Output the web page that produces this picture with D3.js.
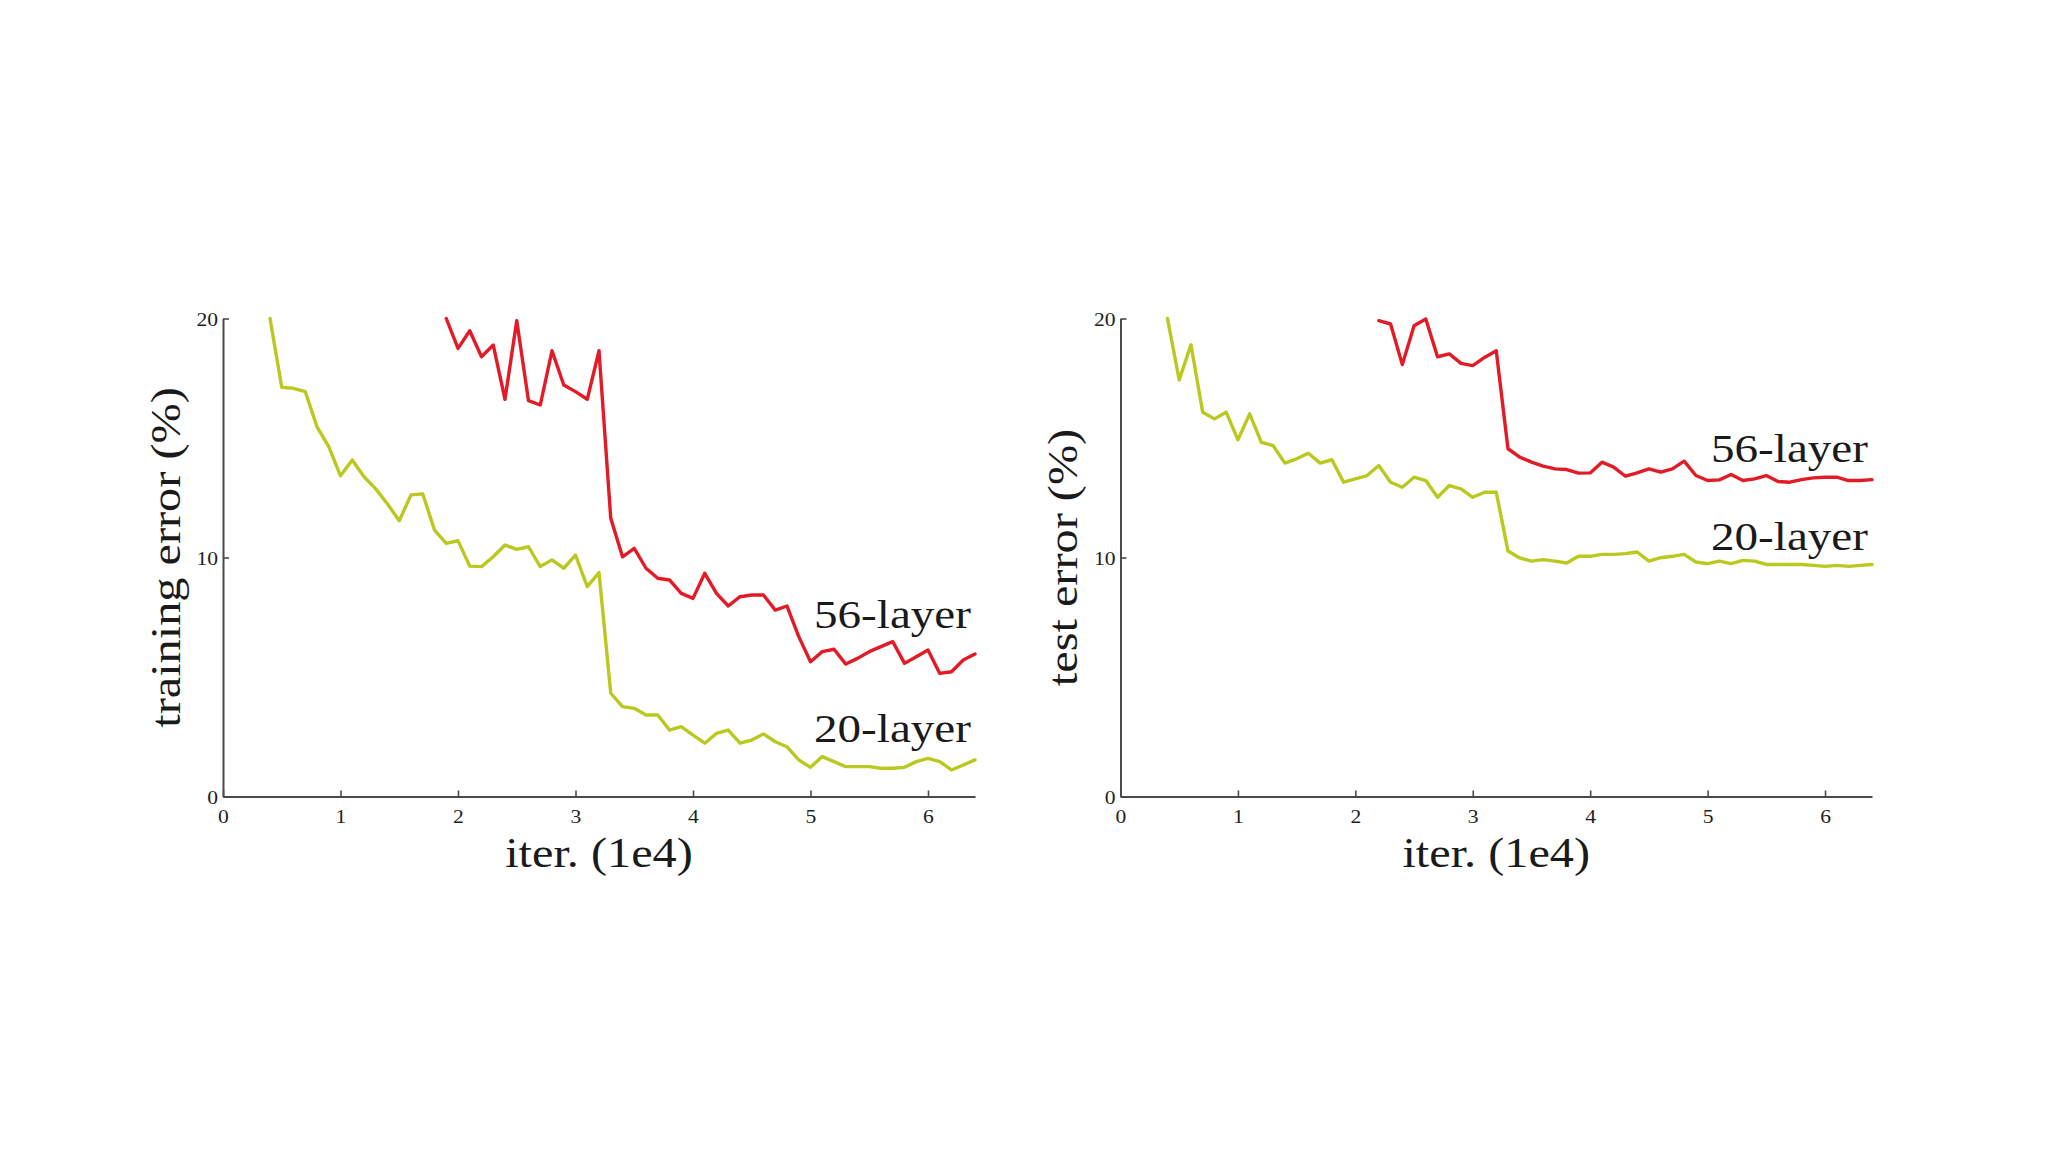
<!DOCTYPE html>
<html>
<head>
<meta charset="utf-8">
<script src="https://cdn.jsdelivr.net/npm/d3@7"></script>
<style>
  body { margin: 0; background: #fff; }
  svg { display: block; }
</style>
</head>
<body>
<script>
'use strict';

// one logged point every 1e3 iterations = 0.1 on the (1e4) axis
const iterStep = 0.1;

const xTicks = [0, 1, 2, 3, 4, 5, 6];
const yTicks = [0, 10, 20];
const seriesNames = ["56-layer", "20-layer"];

// training error (%) - left plot
const train20Start = 0.4;
const train20 = [20.0, 17.12, 17.08, 16.94, 15.47, 14.64, 13.42, 14.08, 13.38, 12.87,
  12.24, 11.54, 12.62, 12.66, 11.15, 10.59, 10.70, 9.64, 9.62, 10.03,
  10.52, 10.34, 10.45, 9.62, 9.90, 9.55, 10.10, 8.78, 9.37, 4.32,
  3.76, 3.69, 3.41, 3.41, 2.78, 2.92, 2.57, 2.23, 2.64, 2.78,
  2.23, 2.36, 2.62, 2.29, 2.08, 1.53, 1.22, 1.67, 1.46, 1.25,
  1.25, 1.25, 1.18, 1.18, 1.22, 1.46, 1.60, 1.46, 1.11, 1.32, 1.53];
const train56Start = 1.9;
const train56 = [20.0, 18.75, 19.49, 18.40, 18.89, 16.62, 19.91, 16.56, 16.38, 18.65,
  17.22, 16.94, 16.62, 18.65, 11.64, 10.03, 10.38, 9.55, 9.13, 9.06,
  8.50, 8.29, 9.34, 8.50, 7.97, 8.36, 8.43, 8.43, 7.80, 7.97,
  6.69, 5.64, 6.06, 6.16, 5.54, 5.78, 6.06, 6.27, 6.48, 5.57,
  5.85, 6.13, 5.15, 5.22, 5.71, 5.96];

// test error (%) - right plot
const test20Start = 0.4;
const test20 = [20.0, 17.43, 18.90, 16.08, 15.80, 16.08, 14.92, 16.01, 14.82, 14.68,
  13.95, 14.13, 14.36, 13.95, 14.09, 13.15, 13.29, 13.43, 13.85, 13.15,
  12.94, 13.36, 13.22, 12.52, 13.01, 12.87, 12.52, 12.73, 12.73, 10.27,
  9.98, 9.85, 9.91, 9.85, 9.77, 10.05, 10.05, 10.13, 10.13, 10.16,
  10.23, 9.85, 9.99, 10.05, 10.13, 9.81, 9.74, 9.85, 9.74, 9.88,
  9.85, 9.71, 9.71, 9.71, 9.71, 9.67, 9.63, 9.67, 9.63, 9.67, 9.71];
const test56Start = 2.2;
const test56 = [19.91, 19.77, 18.07, 19.70, 19.98, 18.40, 18.52, 18.12, 18.03, 18.37,
  18.65, 14.55, 14.20, 13.99, 13.82, 13.71, 13.68, 13.53, 13.54, 13.99,
  13.78, 13.40, 13.54, 13.71, 13.57, 13.71, 14.03, 13.43, 13.22, 13.25,
  13.47, 13.22, 13.29, 13.43, 13.18, 13.15, 13.26, 13.33, 13.36, 13.36,
  13.22, 13.22, 13.26];

(function() {

  let svgContainer = "";
  const serif = '"Liberation Serif", "Times New Roman", serif';
  const colors = { "56-layer": "#e21b26", "20-layer": "#bac91f" };
  const stretch = 1.15; // the figure's text is a bit wider than plain Times

  // layout of the two plots (pixels) + where the series names sit (in error %)
  let panels = [
    { left: 223, right: 975, top: 318.5, bottom: 796.5, labelX: 180,
      yTitle: "training error (%)", lines: [[train56Start, train56], [train20Start, train20]],
      nameY: [7.05, 2.29] },
    { left: 1120.5, right: 1872, top: 318.5, bottom: 796.5, labelX: 1077,
      yTitle: "test error (%)", lines: [[test56Start, test56], [test20Start, test20]],
      nameY: [13.99, 10.33] }
  ];

  window.onload = function() {
    svgContainer = d3.select('body')
      .append('svg')
      .attr('width', 2048)
      .attr('height', 1152)
      .style('background', '#fff');

    panels.forEach(drawPanel);
  }

  // draw one plot: axes, the two curves and the labels
  function drawPanel(p) {
    let xScale = d3.scaleLinear().domain([0, 6.4]).range([p.left, p.right]);
    let yScale = d3.scaleLinear().domain([0, 20]).range([p.bottom, p.top]);

    // x axis with ticks pointing inwards
    let xAxis = d3.axisBottom(xScale)
      .tickValues(xTicks)
      .tickFormat(d3.format('d'))
      .tickSizeInner(-6)
      .tickSizeOuter(0)
      .tickPadding(14);
    let gx = svgContainer.append('g')
      .attr('transform', 'translate(0,' + p.bottom + ')')
      .call(xAxis);
    styleAxis(gx);
    gx.selectAll('text').attr('transform', 'scale(' + 1.2 + ',1)')
      .attr('x', 0);

    // y axis
    let yAxis = d3.axisLeft(yScale)
      .tickValues(yTicks)
      .tickFormat(d3.format('d'))
      .tickSizeInner(-6)
      .tickSizeOuter(0)
      .tickPadding(5);
    let gy = svgContainer.append('g')
      .attr('transform', 'translate(' + p.left + ',0)')
      .call(yAxis);
    styleAxis(gy);
    gy.selectAll('text')
      .attr('x', -5 / 1.2)
      .attr('dy', '0.38em')
      .attr('transform', 'scale(' + 1.2 + ',1)');

    // the curves
    let line = d3.line()
      .x((d) => xScale(d[0]))
      .y((d) => yScale(d[1]));

    p.lines.forEach(function(s, i) {
      let start = s[0];
      let pts = s[1].map((v, k) => [start + k * iterStep, v]);
      svgContainer.append('path')
        .datum(pts)
        .attr('d', line)
        .attr('fill', 'none')
        .attr('stroke', colors[seriesNames[i]])
        .attr('stroke-width', 3.4)
        .attr('stroke-linejoin', 'round')
        .attr('stroke-linecap', 'round');
    });

    // series names at the right end
    seriesNames.forEach(function(name, i) {
      addText(xScale(6.4) - 4, yScale(p.nameY[i]), name, 41, 'end', 0);
    });

    // axis titles
    addText((p.left + p.right) / 2, 867, "iter. (1e4)", 42, 'middle', 0);
    addText(p.labelX, (p.top + p.bottom) / 2, p.yTitle, 42, 'middle', -90);
  }

  function styleAxis(g) {
    g.attr('font-family', serif)
      .attr('font-size', 18)
      .attr('color', '#4a4a4a');
    g.select('.domain').attr('stroke-width', 2);
    g.selectAll('.tick line').attr('stroke-width', 1.6);
    g.selectAll('text').attr('fill', '#1e1e1e');
  }

  // text stretched a little along its own direction
  function addText(x, y, str, size, anchor, angle) {
    svgContainer.append('text')
      .attr('transform', 'translate(' + x + ',' + y + ') rotate(' + angle + ') scale(' + stretch + ',1)')
      .attr('text-anchor', anchor)
      .style('font-family', serif)
      .style('font-size', size + 'px')
      .style('fill', '#1a1a1a')
      .text(str);
  }

})();
</script>
</body>
</html>
